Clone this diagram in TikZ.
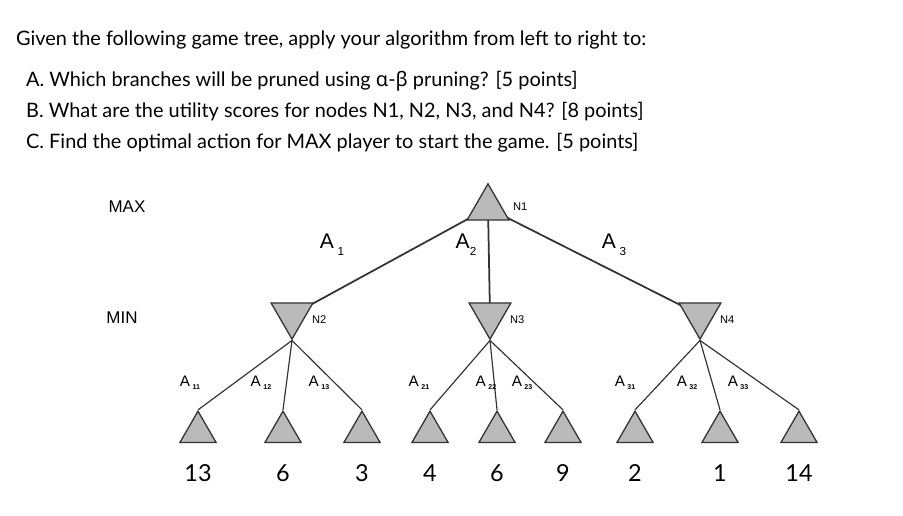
\documentclass[tikz,border=0pt]{standalone}
\usepackage{fontspec}
\setmainfont{Lato}
\newfontfamily\arialf{Liberation Sans}
\newfontfamily\greekf{Noto Sans}
\usetikzlibrary{shapes.geometric,backgrounds}
\begin{document}
\begin{tikzpicture}[x=0.03cm,y=-0.03cm,
  tri/.style={regular polygon,regular polygon sides=3,draw=black!80,line width=1.1pt,fill=black!27,minimum size=1.45cm,inner sep=0pt},
  mintri/.style={tri,rotate=180},
  leaf/.style={tri,minimum size=1.25cm},
  edge/.style={draw=black!80,line width=1.5pt},
  thin/.style={draw=black!80,line width=1pt},
  q/.style={anchor=west,font=\fontsize{17}{20}\selectfont},
  lab/.style={font=\arialf\fontsize{14.5}{16}\selectfont},
  nl/.style={font=\arialf\fontsize{9.5}{10}\selectfont,anchor=west},
  al/.style={font=\arialf\fontsize{18}{20}\selectfont},
  sl/.style={font=\arialf},
  num/.style={font=\fontsize{20}{23}\selectfont}]
\useasboundingbox (0,0) rectangle (903,516);
\node[q] (t0) at (12,40) {Given the following game tree, apply your algorithm from left to right to:};
\node[q] (ta) at (22,81) {A. Which branches will be pruned using {\greekf α}-{\greekf β} pruning? [5 points]};
\node[q] (tb) at (22,112) {B. What are the utility scores for nodes N1, N2, N3, and N4? [8 points]};
\node[q] (tc) at (22,143) {C. Find the optimal action for MAX player to start the game. [5 points]};

\node[lab] (max) at (127,207) {MAX};
\node[lab] (min) at (122,318) {MIN};

\node[tri] (n1) at (488,208) {};
\node[nl] (n1l) at (509,207) {N1};
\node[mintri] (n2) at (292,315) {};
\node[mintri] (n3) at (490,315) {};
\node[mintri] (n4) at (700,315) {};
\node[nl] (n2l) at (308,320) {N2};
\node[nl] (n3l) at (506,320) {N3};
\node[nl] (n4l) at (716,320) {N4};

\foreach \n/\x/\v in {l1/198/13,l2/283/6,l3/362/3,l4/430/4,l5/497/6,l6/563/9,l7/635/2,l8/720/1,l9/799/14}{
  \node[leaf] (\n) at (\x,432) {};
  \node[num] (\n v) at (\x,473) {\v};
}

\begin{scope}[on background layer]
\draw[edge] (n1.center) -- (n2.center);
\draw[edge] (n1.center) -- (n3.center);
\draw[edge] (n1.center) -- (n4.center);
\foreach \p/\c in {n2/l1,n2/l2,n2/l3,n3/l4,n3/l5,n3/l6,n4/l7,n4/l8,n4/l9}
  \draw[thin] (\p.corner 1) -- (\c.corner 1);
\end{scope}

\node[al] (a1) at (332,245) {A\raisebox{-0.6ex}{\,\fontsize{10}{10}\selectfont 1}};
\node[al] (a2) at (466,245) {A\raisebox{-0.6ex}{\fontsize{10}{10}\selectfont 2}};
\node[al] (a3) at (614,245) {A\raisebox{-0.6ex}{\,\fontsize{10}{10}\selectfont 3}};
\foreach \n/\x/\s in {a11/190/11,a12/261/12,a13/319/13,a21/419/21,a22/486/22,a23/522/23,a31/625/31,a32/687/32,a33/738/33}
  \node[sl] (\n) at (\x,383) {\fontsize{13}{13}\selectfont A\raisebox{-0.4ex}{\,\fontsize{6}{6}\selectfont\bfseries \s}};
\end{tikzpicture}
\end{document}
